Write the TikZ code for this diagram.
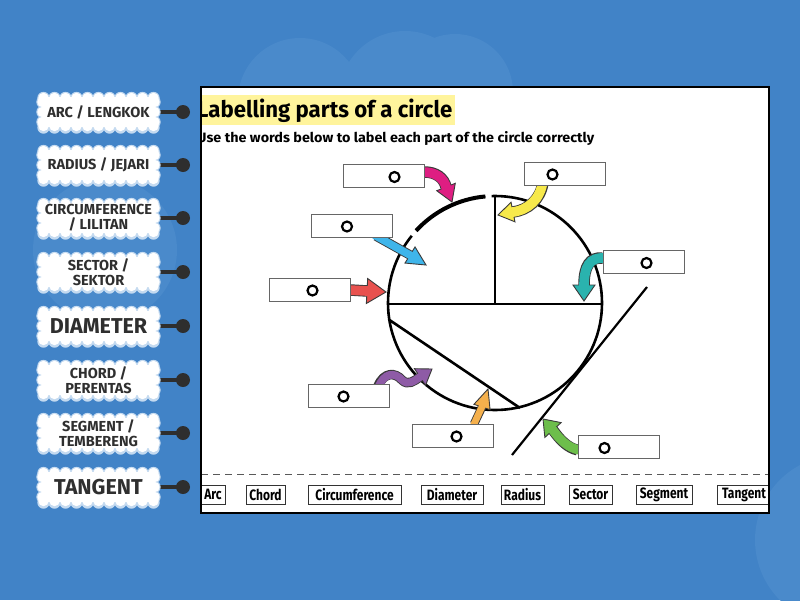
\documentclass[tikz,border=0pt]{standalone}
\usepackage{fontspec}
\usepackage{graphicx}
\setmainfont{Fira Sans}
\usetikzlibrary{calc}
\definecolor{bgblue}{HTML}{4183C7}
\definecolor{faint}{HTML}{4A8ACB}
\definecolor{cloudedge}{HTML}{C4DAF0}
\definecolor{knob}{HTML}{2E2E2E}
\definecolor{btntext}{HTML}{2F2F2F}
\definecolor{hilite}{HTML}{FFF49C}
\definecolor{apink}{HTML}{DE1E82}
\definecolor{ayellow}{HTML}{F7E94B}
\definecolor{ablue}{HTML}{3FB5EA}
\definecolor{ared}{HTML}{E8514E}
\definecolor{ateal}{HTML}{2AB3AE}
\definecolor{apurple}{HTML}{8E5BA6}
\definecolor{aorange}{HTML}{F5B04C}
\definecolor{agreen}{HTML}{6DBE4B}
\definecolor{aline}{HTML}{3A3A3A}
\newcommand\hs[1]{\scalebox{0.8}[1]{#1}}
\newcommand\cloudpuffs[2]{%
  \foreach \i in {0,...,10}{
    \fill[cloudedge] (#1-55+\i*11,#2-14) circle[radius=6.2];
    \fill[cloudedge] (#1-55+\i*11,#2+15.5) circle[radius=6.2];
  }
  \foreach \j in {-1,0,1}{
    \fill[cloudedge] (#1-56,#2+\j*10) circle[radius=6.2];
    \fill[cloudedge] (#1+56,#2+\j*10) circle[radius=6.2];
  }
  \foreach \i in {0,...,10}{
    \fill[white] (#1-55+\i*11,#2-14) circle[radius=5.2];
    \fill[white] (#1-55+\i*11,#2+14) circle[radius=5.2];
  }
  \foreach \j in {-1,0,1}{
    \fill[white] (#1-56,#2+\j*10) circle[radius=5.2];
    \fill[white] (#1+56,#2+\j*10) circle[radius=5.2];
  }
}
\tikzset{
  cloudbtn/.style={fill=white, rounded corners=4pt, minimum width=112pt,
    minimum height=30pt, inner sep=0pt, align=center, text=btntext,
    font=\bfseries\fontsize{14.5}{15}\selectfont},
  bigbtn/.style={cloudbtn, font=\bfseries\fontsize{21.5}{22}\selectfont},
  knobdot/.style={circle, fill=knob, minimum size=14pt, inner sep=0pt},
  stem/.style={knob, line width=4.5pt},
  labbox/.style={draw=black!60, fill=white, line width=1pt, minimum width=81pt,
    minimum height=23pt, inner sep=0pt},
  ring/.style={circle, draw=black, line width=2.2pt, minimum size=10pt, inner sep=0pt},
  wordbox/.style={draw=black!80, fill=white, line width=1pt, minimum height=19pt,
    inner sep=0pt, font=\bfseries\fontsize{15}{16}\selectfont},
  geo/.style={black, line width=2.6pt},
}
\begin{document}
\begin{tikzpicture}[x=1pt,y=-1pt]
\useasboundingbox (0,0) rectangle (800,600);
\fill[bgblue] (0,0) rectangle (800,600);
% faint background clouds
\fill[faint] (300,100) circle[radius=62];
\fill[faint] (405,97) circle[radius=66];
\fill[faint] (455,92) circle[radius=58];
\fill[faint] (840,540) circle[radius=85];
\fill[faint] (105,250) circle[radius=72];

% left buttons
\foreach \y/\nm/\txt/\st in {112/bArc/{ARC / LENGKOK}/cloudbtn,
  165/bRad/{RADIUS / JEJARI}/cloudbtn,
  218/bCir/{CIRCUMFERENCE\\/ LILITAN}/cloudbtn,
  272/bSec/{SECTOR /\\SEKTOR}/cloudbtn,
  326/bDia/{DIAMETER}/bigbtn,
  380/bCho/{CHORD /\\PERENTAS}/cloudbtn,
  433/bSeg/{SEGMENT /\\TEMBERENG}/cloudbtn,
  487/bTan/{TANGENT}/bigbtn}{
  \node[knobdot] (k\nm) at (183,\y) {};
  \draw[stem] (150,\y) -- (k\nm.center);
  \cloudpuffs{98.5}{\y}
  \node[\st] (\nm) at (98.5,\y) {\txt};
}

% worksheet panel
\node[fill=white, minimum width=568pt, minimum height=426pt, inner sep=0pt] (panel) at (485,300) {};
\begin{scope}
\clip (201,87) rectangle (769,513);
\fill[hilite] (201,95) rectangle (455,125);
\node[anchor=base west, inner sep=0pt] (title) at (197,117.5)
  {\resizebox{255pt}{18.5pt}{\bfseries Labelling parts of a circle}};
\node[anchor=base west, inner sep=0pt] (subtitle) at (197,142.5)
  {\resizebox{397pt}{11pt}{\bfseries Use the words below to label each part of the circle correctly}};

% circle figure
\coordinate (C) at (495,303);
\draw[geo] (C) circle[radius=107];
\draw[white, line width=4pt] ($(C)+(-91.8:107)$) arc[start angle=-91.8, end angle=-95.2, radius=107];
\draw[white, line width=4pt] ($(C)+(-137.5:107)$) arc[start angle=-137.5, end angle=-141, radius=107];
\draw[black, line width=4pt] ($(C)+(-95.2:107)$) arc[start angle=-95.2, end angle=-137.5, radius=107];
\coordinate (dL) at (388,304);
\coordinate (dR) at (602,304);
\coordinate (rT) at (495,196.5);
\coordinate (rB) at (495,304);
\coordinate (cA) at (389.5,320);
\coordinate (cB) at (520,408);
\coordinate (tA) at (512,455);
\coordinate (tB) at (647,287);
\draw[geo] (dL) -- (dR);
\draw[geo] (rT) -- (rB);
\draw[geo] (cA) -- (cB);
\draw[black, line width=2.2pt] (tA) -- (tB);

% label boxes
\node[labbox] (L1) at (383.5,176) {};
\node[labbox] (L2) at (564.5,173.5) {};
\node[labbox] (L3) at (352,225.5) {};
\node[labbox] (L4) at (309.5,289.5) {};
\node[labbox] (L5) at (643.5,262) {};
\node[labbox] (L6) at (348.5,395.5) {};
\node[labbox] (L7) at (452.5,435.5) {};
\node[labbox] (L8) at (618.5,447) {};

% arrows: shaft outline, head, shaft colour
% pink
\coordinate (p1s) at (L1.east |- 0,172); \coordinate (p1b) at (446,187); \coordinate (p1t) at (452,202);
\draw[aline, line width=11.5pt] (p1s) .. controls (436,172) and (444,178) .. (p1b);
\filldraw[fill=apink, draw=aline, line width=0.9pt] (p1t) -- ($(p1b)!10pt!90:(p1t)$) -- ($(p1b)!10pt!-90:(p1t)$) -- cycle;
\draw[apink, line width=9.7pt] ($(p1s)+(-2,0)$) .. controls (436,172) and (444,178) .. ($(p1b)!1.2pt!(p1t)$);
% yellow
\coordinate (p2s) at (543,183); \coordinate (p2b) at (513,212); \coordinate (p2t) at (498,215);
\draw[aline, line width=11.5pt] (p2s) .. controls (540,200) and (528,210) .. (p2b);
\filldraw[fill=ayellow, draw=aline, line width=0.9pt] (p2t) -- ($(p2b)!10pt!90:(p2t)$) -- ($(p2b)!10pt!-90:(p2t)$) -- cycle;
\draw[ayellow, line width=9.7pt] ($(p2s)+(0,-2)$) .. controls (540,200) and (528,210) .. ($(p2b)!1.2pt!(p2t)$);
% blue
\coordinate (p3s) at (376,236); \coordinate (p3b) at (410,255); \coordinate (p3t) at (426,265);
\draw[aline, line width=9.5pt] (p3s) -- (p3b);
\filldraw[fill=ablue, draw=aline, line width=0.9pt] (p3t) -- ($(p3b)!9.5pt!90:(p3t)$) -- ($(p3b)!9.5pt!-90:(p3t)$) -- cycle;
\draw[ablue, line width=7.7pt] ($(p3s)!-2pt!(p3b)$) -- ($(p3b)!1.2pt!(p3t)$);
% red
\coordinate (p4s) at (L4.east |- 0,290); \coordinate (p4b) at (367,291); \coordinate (p4t) at (386,292);
\draw[aline, line width=11.5pt] (p4s) -- (p4b);
\filldraw[fill=ared, draw=aline, line width=0.9pt] (p4t) -- ($(p4b)!12.5pt!90:(p4t)$) -- ($(p4b)!12.5pt!-90:(p4t)$) -- cycle;
\draw[ared, line width=9.7pt] ($(p4s)+(-2,0)$) -- ($(p4b)!1.2pt!(p4t)$);
% teal
\coordinate (p5s) at (L5.west |- 0,258); \coordinate (p5b) at (584,285); \coordinate (p5t) at (584,301);
\draw[aline, line width=11.5pt] (p5s) .. controls (590,257) and (584,266) .. (p5b);
\filldraw[fill=ateal, draw=aline, line width=0.9pt] (p5t) -- ($(p5b)!11pt!90:(p5t)$) -- ($(p5b)!11pt!-90:(p5t)$) -- cycle;
\draw[ateal, line width=9.7pt] ($(p5s)+(2,0)$) .. controls (590,257) and (584,266) .. ($(p5b)!1.2pt!(p5t)$);
% purple
\coordinate (p6s) at (378,386); \coordinate (p6b) at (420,377); \coordinate (p6t) at (432,369);
\draw[aline, line width=9.5pt] (p6s) .. controls (384,372) and (395,372) .. (402,380) .. controls (408,386) and (414,381) .. (p6b);
\filldraw[fill=apurple, draw=aline, line width=0.9pt] (p6t) -- ($(p6b)!10pt!90:(p6t)$) -- ($(p6b)!10pt!-90:(p6t)$) -- cycle;
\draw[apurple, line width=7.7pt] ($(p6s)+(0,2)$) .. controls (384,372) and (395,372) .. (402,380) .. controls (408,386) and (414,381) .. ($(p6b)!1.2pt!(p6t)$);
% orange
\coordinate (p7s) at (474,424); \coordinate (p7b) at (482,407); \coordinate (p7t) at (488,389);
\draw[aline, line width=8.5pt] (p7s) -- (p7b);
\filldraw[fill=aorange, draw=aline, line width=0.9pt] (p7t) -- ($(p7b)!8.5pt!90:(p7t)$) -- ($(p7b)!8.5pt!-90:(p7t)$) -- cycle;
\draw[aorange, line width=6.7pt] ($(p7s)!-2pt!(p7b)$) -- ($(p7b)!1.2pt!(p7t)$);
% green
\coordinate (p8s) at (L8.west |- 0,450); \coordinate (p8b) at (553,430); \coordinate (p8t) at (543,419);
\draw[aline, line width=11pt] (p8s) .. controls (568,448) and (560,440) .. (p8b);
\filldraw[fill=agreen, draw=aline, line width=0.9pt] (p8t) -- ($(p8b)!11pt!90:(p8t)$) -- ($(p8b)!11pt!-90:(p8t)$) -- cycle;
\draw[agreen, line width=9.2pt] ($(p8s)+(2,0)$) .. controls (568,448) and (560,440) .. ($(p8b)!1.2pt!(p8t)$);

% redraw label boxes on top of shaft starts
\foreach \n/\dx in {L1/11,L2/-12,L3/-5,L4/3,L5/3,L6/-5,L7/4,L8/-14}{
  \node[labbox] at (\n) {};
  \node[ring] (r\n) at ($(\n)+(\dx,1)$) {};
}

% dashed divider
\coordinate (dashA) at (201,474.5);
\coordinate (dashB) at (769,474.5);
\draw[black!65, line width=1.3pt, dash pattern=on 7pt off 5pt] (dashA) -- (dashB);

% word bank
\node[wordbox, minimum width=25pt] (wArc) at (213,494.5) {\hs{Arc}};
\node[wordbox, minimum width=39pt] (wChord) at (265.5,494.5) {\hs{Chord}};
\node[wordbox, minimum width=93pt] (wCirc) at (354.5,494.5) {\hs{Circumference}};
\node[wordbox, minimum width=62pt] (wDia) at (452,494.5) {\hs{Diameter}};
\node[wordbox, minimum width=43pt] (wRad) at (522.5,494.5) {\hs{Radius}};
\node[wordbox, minimum width=43pt] (wSec) at (590.5,494.5) {\hs{Sector}};
\node[wordbox, minimum width=56pt] (wSeg) at (664,494.5) {\hs{Segment}};
\node[wordbox, minimum width=54pt] (wTan) at (744,494.5) {\hs{Tangent}};
\end{scope}
\draw[black, line width=2pt] (panel.north west) rectangle (panel.south east);
\end{tikzpicture}
\end{document}
